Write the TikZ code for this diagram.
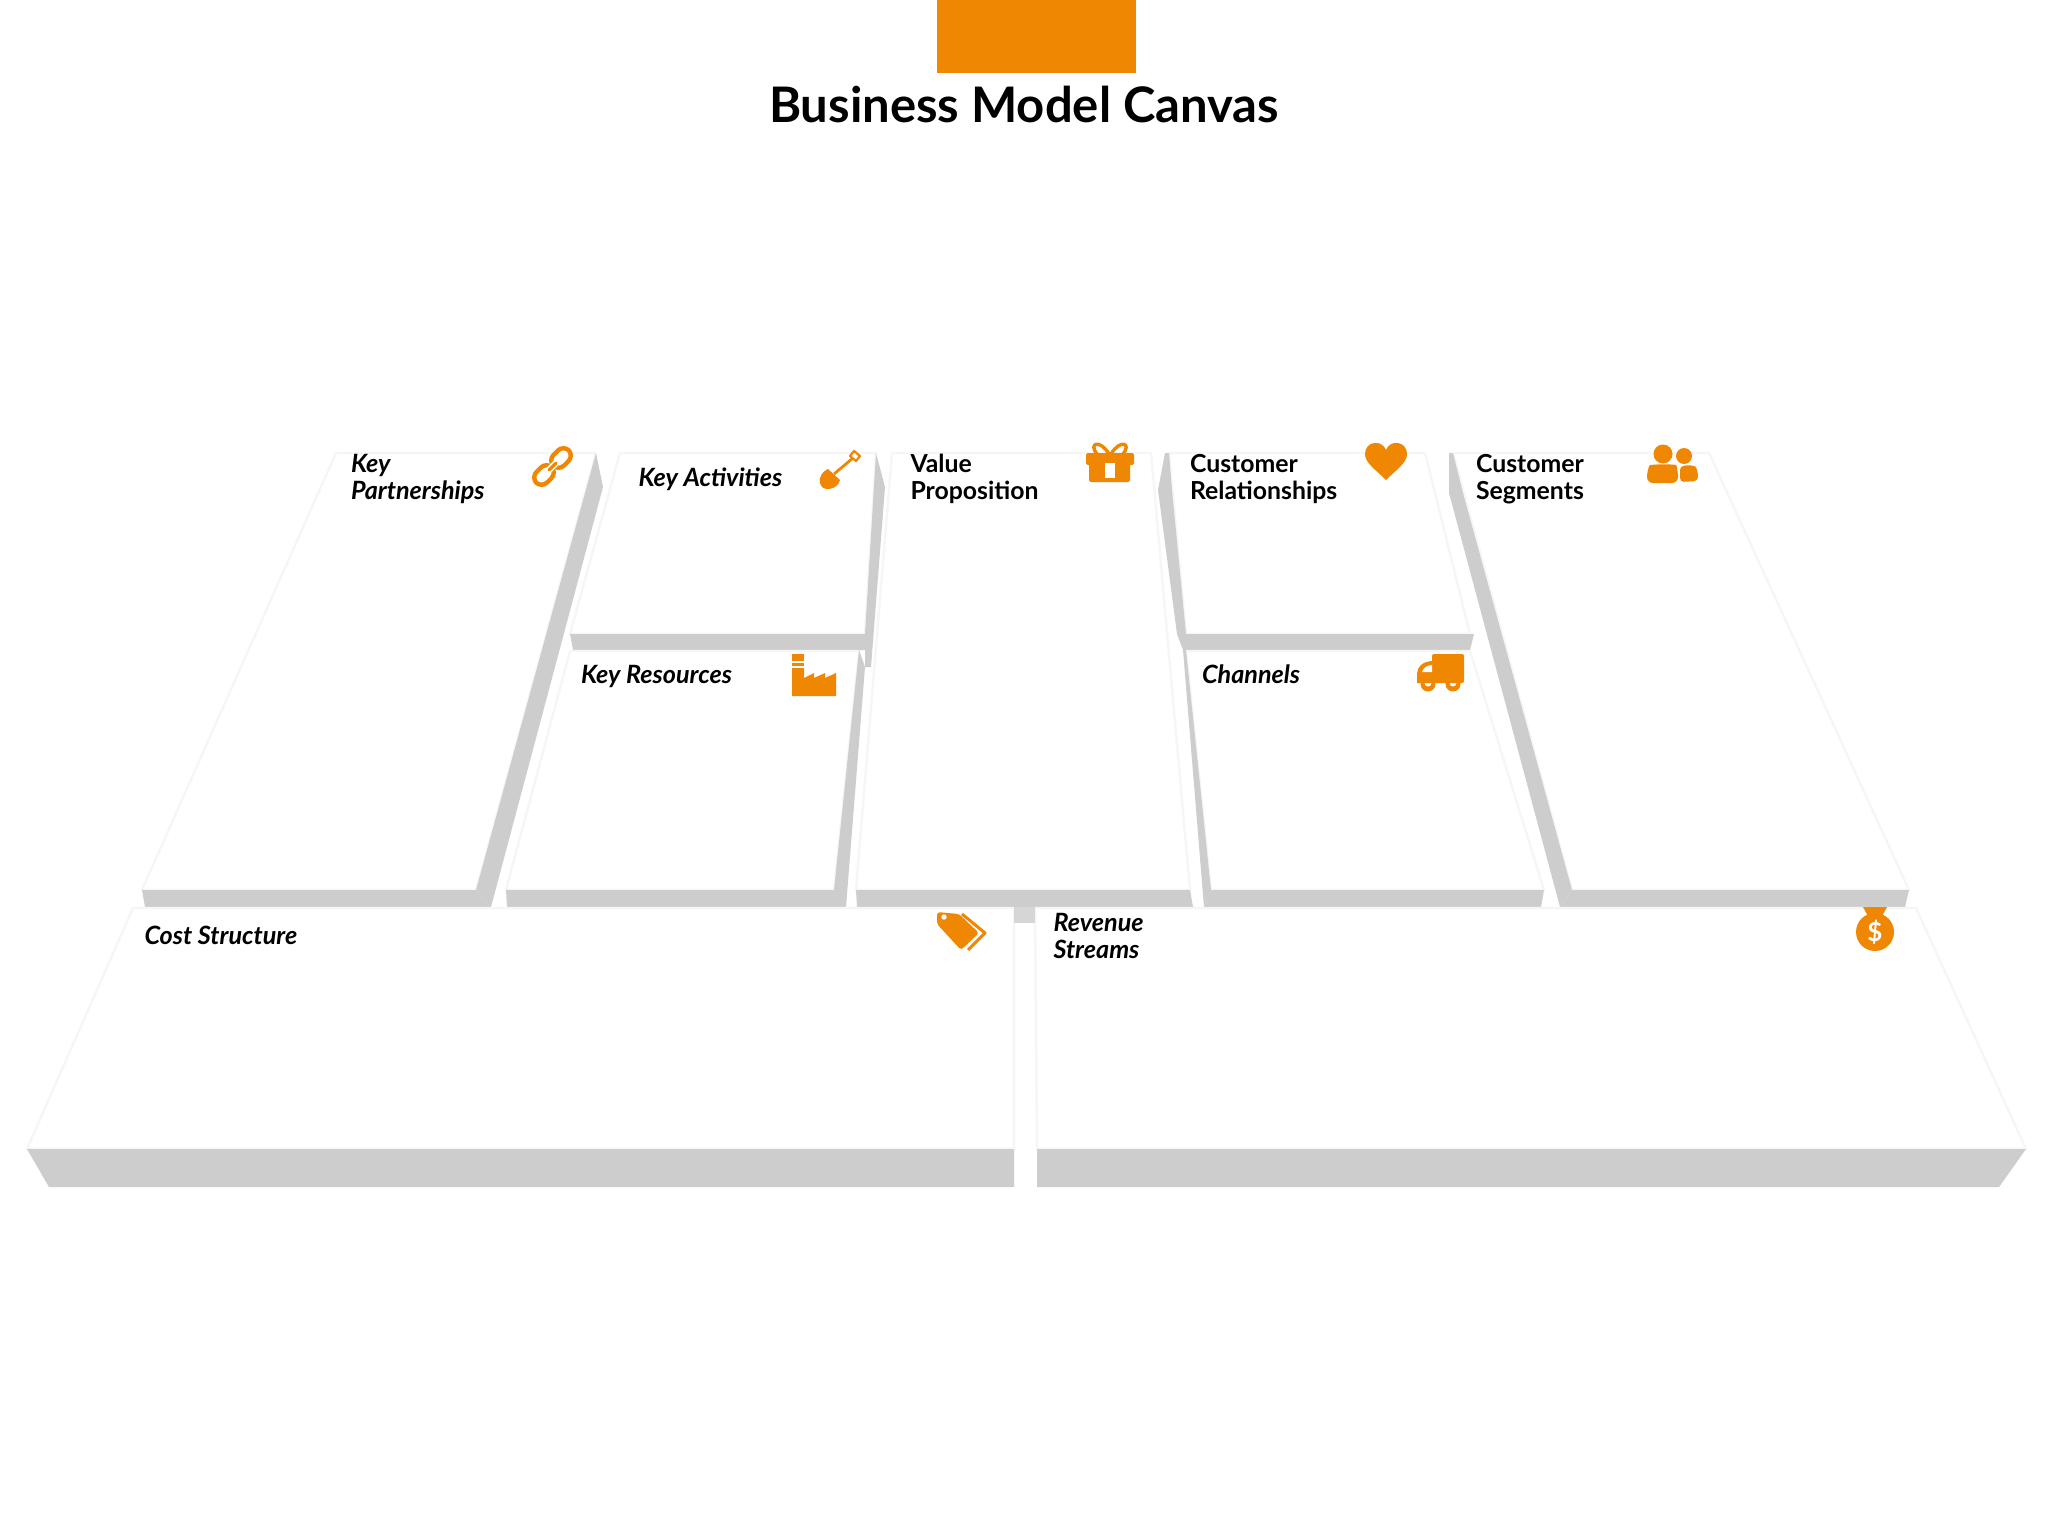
\documentclass[tikz,border=0pt]{standalone}
\usepackage{fontspec}
\setmainfont{Lato}
\definecolor{bmcorange}{HTML}{F08703}
\definecolor{sidegray}{HTML}{CDCDCD}
\definecolor{gapgray}{HTML}{D6D6D6}
\definecolor{faceedge}{HTML}{F6F6F6}
\tikzset{
  x=0.5pt,y=-0.5pt,
  face/.style={fill=white,draw=faceedge,line width=1.2pt,line join=round},
  shade3d/.style={fill=sidegray,draw=none},
  icon/.style={fill=bmcorange,draw=none},
  iconline/.style={draw=bmcorange,fill=none},
  hollow/.style={fill=white,draw=none},
  upright/.style={anchor=base west,inner sep=0pt,outer sep=0pt,align=left,font=\fontsize{12.4}{13.5}\selectfont\bfseries,text=black},
  slanted/.style={upright,font=\fontsize{12.6}{13.5}\selectfont\bfseries\itshape},
}
\begin{document}
\begin{tikzpicture}
\useasboundingbox (0,0) rectangle (2048,1536);
\fill[white] (0,0) rectangle (2048,1536);

% header
\fill[icon] (937,0) rectangle (1136,73);
\node[anchor=base,inner sep=0pt,font=\fontsize{24.5}{25}\selectfont\bfseries,text=black] (title) at (1024,122) {Business Model Canvas};

% Key Partnerships
\path[face] (336,453) -- (596,453) -- (476,890) -- (142,890) -- cycle;
\fill[shade3d] (596,453) -- (603,487) -- (491,907) -- (476,890) -- cycle;
\fill[shade3d] (142,890) -- (476,890) -- (491,907) -- (145,907) -- cycle;

% Key Activities
\path[face] (620,453) -- (876,453) -- (865,634) -- (570,634) -- cycle;
\fill[shade3d] (876,453) -- (885,487) -- (871,667) -- (865,667) -- (865,634) -- cycle;
\fill[shade3d] (570,634) -- (865,634) -- (871,650) -- (573,650) -- cycle;

% Key Resources
\path[face] (570,651) -- (859,651) -- (834,890) -- (506,890) -- cycle;
\fill[shade3d] (859,650) -- (865,667) -- (846,907) -- (834,890) -- cycle;
\fill[shade3d] (506,890) -- (834,890) -- (846,907) -- (507,907) -- cycle;

% Value Proposition
\path[face] (892,453) -- (1151,453) -- (1190,890) -- (856,890) -- cycle;
\fill[shade3d] (856,890) -- (1190,890) -- (1193,907) -- (857,907) -- cycle;

% Customer Relationships
\path[face] (1169,453) -- (1425,453) -- (1470,634) -- (1186,634) -- cycle;
\fill[shade3d] (1165,453) -- (1158,490) -- (1177,634) -- (1183,650) -- (1186,650) -- (1186,634) -- (1172,490) -- (1169,453) -- cycle;
\fill[shade3d] (1183,634) -- (1474,634) -- (1470,650) -- (1186,650) -- cycle;

% Channels
\path[face] (1186,651) -- (1470,651) -- (1544,890) -- (1211,890) -- cycle;
\fill[shade3d] (1183,650) -- (1186,650) -- (1211,890) -- (1204,907) -- cycle;
\fill[shade3d] (1211,890) -- (1544,890) -- (1541,907) -- (1204,907) -- cycle;

% Customer Segments
\path[face] (1453,453) -- (1709,453) -- (1909,890) -- (1572,890) -- cycle;
\fill[shade3d] (1449,453) -- (1453,453) -- (1463,493) -- (1572,890) -- (1560,907) -- (1449,493) -- cycle;
\fill[shade3d] (1572,890) -- (1909,890) -- (1905,907) -- (1560,907) -- cycle;

% Cost Structure
\path[face] (133,908) -- (1014,908) -- (1014,1149) -- (27,1149) -- cycle;
\fill[shade3d] (27,1149) -- (1014,1149) -- (1014,1187) -- (49,1187) -- cycle;

% Revenue Streams
\path[face] (1035,908) -- (1916,908) -- (2026,1149) -- (1037,1149) -- cycle;
\fill[shade3d] (1037,1149) -- (2026,1149) -- (1999,1187) -- (1037,1187) -- cycle;

% small block in the gap
\fill[gapgray] (1014,907) rectangle (1035,923);

% labels (a two-line node's base is its last line)
\node[slanted] (kp) at (351,499) {Key\\Partnerships};
\node[slanted] (ka) at (638.5,486) {Key Activities};
\node[slanted] (kr) at (581,683) {Key Resources};
\node[upright] (vp) at (910.5,499) {Value\\Proposition};
\node[upright] (cr) at (1190,499) {Customer\\Relationships};
\node[upright] (cs) at (1476,499) {Customer\\Segments};
\node[slanted] (ch) at (1202,683) {Channels};
\node[slanted] (cst) at (144.5,944) {Cost Structure};
\node[slanted] (rs) at (1053.5,958) {Revenue\\Streams};

% link icon
\begin{scope}[iconline,line width=2.2pt]
  \draw[rotate around={45:(561,458)},rounded corners=4pt] (550,450.5) rectangle (572,465.5);
  \draw[rotate around={45:(544,475)},rounded corners=4pt] (533,467.5) rectangle (555,482.5);
\end{scope}
\draw[white,line width=3.2pt] (549,470) -- (556,463);
\draw[iconline,line width=1.6pt,line cap=round] (549,470) -- (556,463);

% shovel icon
\fill[icon] (828,469) -- (840,480) .. controls (838,489) and (826,491) .. (822,487) .. controls (818,483) and (819,473) .. (828,469) -- cycle;
\draw[iconline,line width=1.4pt] (834,474) -- (853,458);
\draw[iconline,line width=1.1pt,line join=round] (850,456) -- (854,451) -- (860,456) -- (856,461) -- cycle;

% factory icon
\fill[icon] (792,654) rectangle (804,661);
\fill[icon] (792,662.5) rectangle (804,666);
\fill[icon] (792,668) -- (804,668) -- (804,678) -- (814,673) -- (814,678) -- (825,673) -- (825,678) -- (836,673) -- (836,696) -- (792,696) -- cycle;

% gift icon
\fill[icon,rounded corners=0.8pt] (1086,453) rectangle (1134,465);
\fill[icon,rounded corners=0.8pt] (1089,463) rectangle (1130,482);
\fill[hollow] (1105,463) rectangle (1115,478);
\draw[iconline,line width=1.7pt] (1109,454) .. controls (1100,439) and (1088,443) .. (1097,454);
\draw[iconline,line width=1.7pt] (1111,454) .. controls (1120,439) and (1132,443) .. (1123,454);

% heart icon
\fill[icon] (1386,480) .. controls (1376,470) and (1365,463) .. (1365,454) .. controls (1365,441) and (1382,439) .. (1386,450) .. controls (1390,439) and (1407,441) .. (1407,454) .. controls (1407,463) and (1396,470) .. (1386,480) -- cycle;

% truck icon
\fill[icon] (1428,684) circle[radius=7.5];
\fill[icon] (1453,684) circle[radius=7.5];
\fill[hollow] (1428,683) circle[radius=3.5];
\fill[hollow] (1453,683) circle[radius=3.5];
\fill[icon,rounded corners=1pt] (1432,654) rectangle (1464,683);
\fill[icon] (1433,661) .. controls (1423,661) and (1417,667) .. (1417,674) -- (1417,683) -- (1433,683) -- cycle;
\fill[hollow] (1422,672) .. controls (1423,668) and (1427,665) .. (1432,665) -- (1432,672) -- cycle;

% people icon
\fill[icon] (1663,454) circle[radius=9.5];
\fill[icon,rounded corners=3pt] (1647,483) -- (1647,471) .. controls (1650,464) and (1676,464) .. (1678,471) -- (1678,483) -- cycle;
\fill[icon] (1684,456) circle[radius=8];
\fill[icon,rounded corners=2pt] (1680,466) -- (1691,465) .. controls (1697,467) and (1698,474) .. (1698,481) -- (1680,482) -- cycle;

% tag icon
\fill[icon,rounded corners=1.5pt] (937,924) -- (937,912) -- (959,914) -- (979,933) -- (961,950) -- cycle;
\fill[hollow] (944,917) circle[radius=2.7];
\draw[iconline,line width=1.5pt,line join=round] (962,914) -- (985,933) -- (968,950);

% money bag icon
\fill[icon] (1875,932) circle[radius=19];
\fill[icon] (1863,907) -- (1887,907) -- (1881,918) -- (1869,918) -- cycle;
\node[inner sep=0pt,font=\fontsize{13}{13}\selectfont\bfseries,text=white] (dollar) at (1875,932) {\$};
\end{tikzpicture}
\end{document}
